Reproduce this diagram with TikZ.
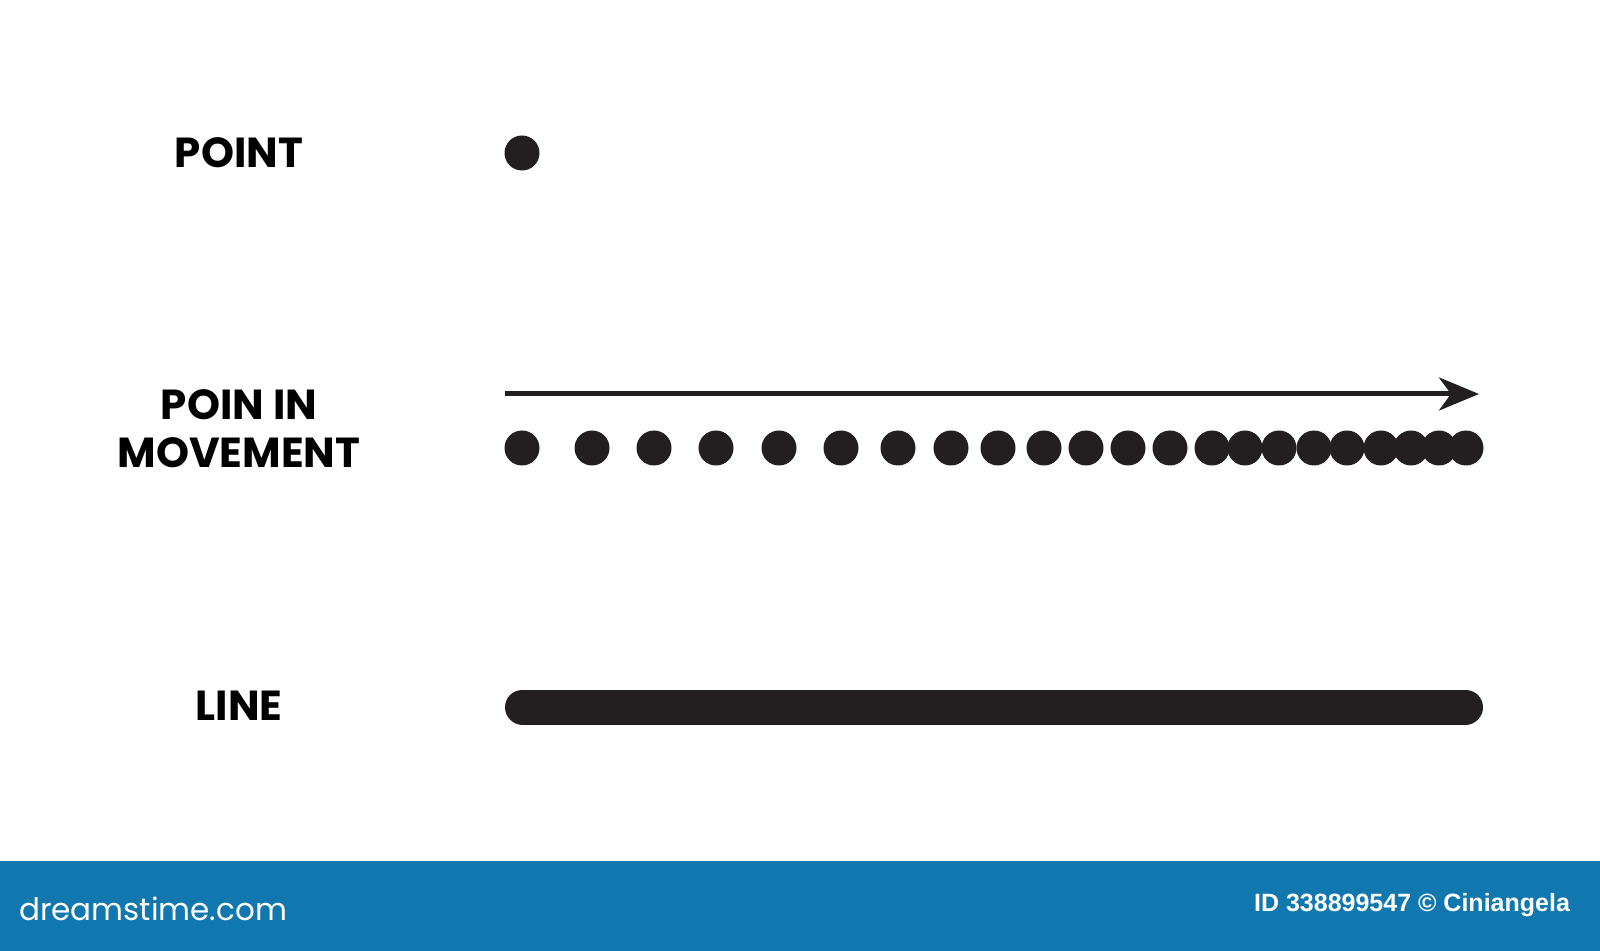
\documentclass[tikz,border=0pt]{standalone}
\usepackage{fontspec}
\usetikzlibrary{arrows.meta}
\newfontfamily\labelfont{Poppins}
\newfontfamily\bannerfont{Liberation Sans}
\definecolor{ink}{RGB}{35,31,32}
\definecolor{banner}{RGB}{17,119,175}
\tikzset{
  labeltext/.style={font=\labelfont\bfseries\fontsize{21}{24}\selectfont, align=center, text=black},
  bannertext/.style={font=\bannerfont\bfseries\fontsize{12.5}{14}\selectfont, text=white}
}
\begin{document}
\begin{tikzpicture}[x=0.5pt,y=-0.5pt]
\useasboundingbox (0,0) rectangle (1600,951);
\fill[banner] (0,861) rectangle (1600,951);

\node[labeltext] (point) at (239,153) {POINT};
\node[labeltext] (move) at (239,429) {POIN IN\\MOVEMENT};
\node[labeltext] (line) at (239,706) {LINE};

\fill[ink] (522,153) circle (17.5);

\coordinate (a1) at (505,394); \coordinate (a2) at (1479,394);
\draw[ink, line width=2.5pt, -{Stealth[length=20pt,width=16.5pt,inset=6pt]}] (a1) -- (a2);
\foreach \x in {522,592,654,716,779,841,898,951,998,1044,1086,1128,1170,1212,1245,1279,1314,1347,1381,1411,1439,1466}
  \fill[ink] (\x,448) circle (17.5);

\coordinate (l1) at (522.5,707); \coordinate (l2) at (1465.5,707);
\draw[ink, line width=17.5pt, line cap=round] (l1) -- (l2);

\node[font=\labelfont\fontsize{15.5}{18}\selectfont, text=white, anchor=west] (site) at (12,909) {dreamstime.com};
\node[bannertext, anchor=east] (credit) at (1577,905) {ID 338899547 © Ciniangela};
\end{tikzpicture}
\end{document}
